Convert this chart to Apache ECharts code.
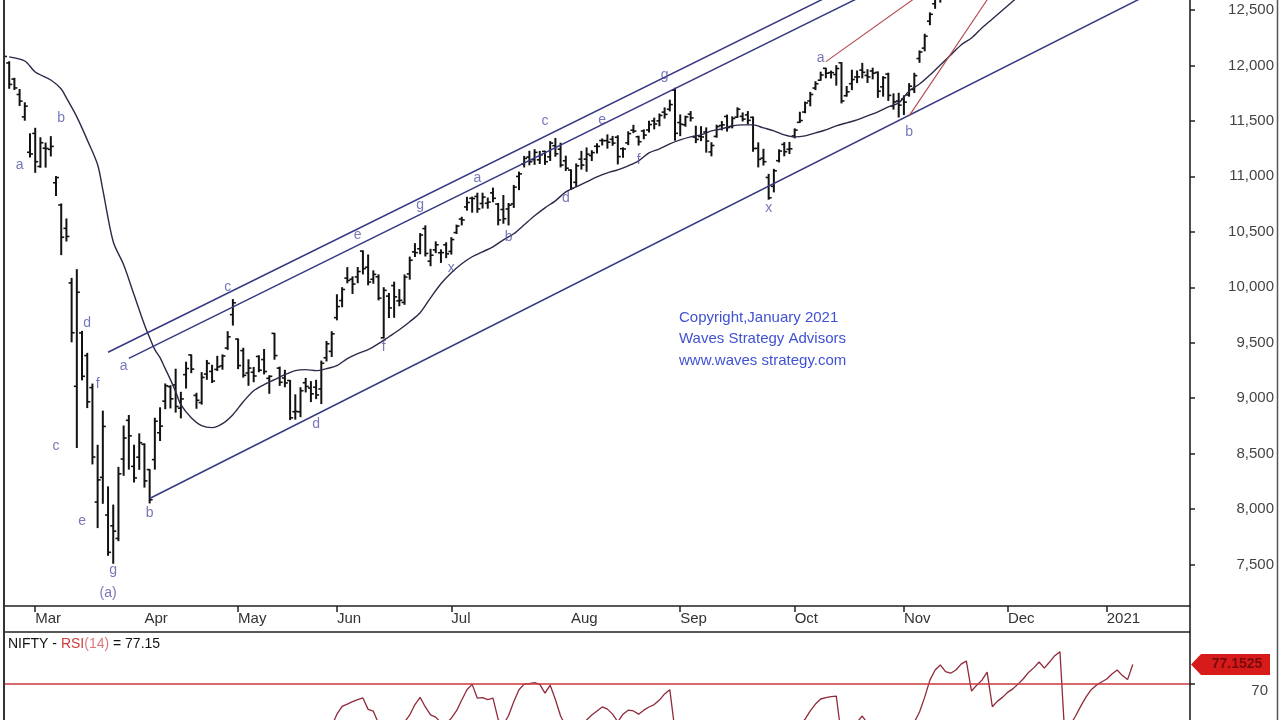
<!DOCTYPE html>
<html><head><meta charset="utf-8">
<script src="https://cdn.jsdelivr.net/npm/echarts@6/dist/echarts.min.js"></script>
<style>html,body{margin:0;padding:0;background:#fff}#c{width:1280px;height:720px}</style>
</head><body><div id="c"></div>
<script>
// ---------- DATA ----------
// daily bars: [date, open, high, low, close]
const bars = [
['2020-02-20',12119,12150,12071,12081],['2020-02-24',12022,12033,11794,11829],['2020-02-25',11877,11884,11783,11797],
['2020-02-26',11738,11783,11639,11678],['2020-02-27',11536,11663,11506,11633],['2020-02-28',11217,11384,11175,11202],
['2020-03-02',11387,11433,11036,11132],['2020-03-03',11089,11348,11082,11303],['2020-03-04',11254,11300,11083,11251],
['2020-03-05',11243,11358,11184,11270],['2020-03-06',10942,10998,10827,10989],['2020-03-09',10742,10751,10294,10451],
['2020-03-11',10531,10616,10417,10458],['2020-03-12',10039,10080,9508,9590],['2020-03-13',9107,10159,8555,9955],
['2020-03-16',9588,9602,9165,9197],['2020-03-17',9384,9404,8915,8967],['2020-03-18',9095,9127,8407,8469],
['2020-03-19',8063,8575,7833,8263],['2020-03-20',8286,8883,8052,8745],['2020-03-23',7946,8200,7583,7610],
['2020-03-24',7849,8036,7511,7801],['2020-03-25',7735,8376,7715,8318],['2020-03-26',8451,8749,8304,8641],
['2020-03-27',8800,8844,8360,8660],['2020-03-30',8385,8576,8244,8281],['2020-03-31',8468,8678,8358,8598],
['2020-04-01',8584,8588,8198,8254],['2020-04-03',8356,8356,8055,8084],['2020-04-07',8446,8819,8360,8792],
['2020-04-08',8688,8913,8618,8748],['2020-04-09',8973,9128,8905,9112],['2020-04-13',9104,9112,8912,8994],
['2020-04-15',9119,9261,8874,8925],['2020-04-16',8910,9053,8822,8993],['2020-04-17',9212,9324,9091,9267],
['2020-04-20',9390,9390,9230,9262],['2020-04-21',9025,9044,8909,8981],['2020-04-22',8960,9230,8946,9187],
['2020-04-23',9217,9340,9170,9314],['2020-04-24',9241,9296,9141,9154],['2020-04-27',9259,9377,9250,9282],
['2020-04-28',9291,9390,9261,9380],['2020-04-29',9452,9599,9440,9553],['2020-04-30',9753,9889,9659,9860],
['2020-05-04',9533,9533,9266,9294],['2020-05-05',9429,9450,9190,9206],['2020-05-06',9227,9346,9116,9271],
['2020-05-07',9234,9277,9148,9200],['2020-05-08',9376,9382,9238,9252],['2020-05-11',9348,9439,9219,9240],
['2020-05-12',9179,9202,9044,9197],['2020-05-13',9584,9584,9351,9384],['2020-05-14',9271,9280,9115,9143],
['2020-05-15',9182,9251,9103,9137],['2020-05-18',9159,9159,8807,8823],['2020-05-19',8878,9030,8811,8880],
['2020-05-20',8877,9094,8833,9067],['2020-05-21',9139,9178,9056,9106],['2020-05-22',9092,9149,8969,9039],
['2020-05-26',9099,9161,8996,9029],['2020-05-27',9083,9334,8951,9315],['2020-05-28',9364,9511,9335,9490],
['2020-05-29',9422,9599,9376,9580],
['2020-06-01',9726,9932,9706,9826],['2020-06-02',9880,9996,9824,9980],['2020-06-03',10082,10177,10040,10061],
['2020-06-04',10073,10094,9944,10029],['2020-06-05',10093,10178,10041,10142],['2020-06-08',10326,10328,10120,10168],
['2020-06-09',10181,10291,10022,10047],['2020-06-10',10072,10148,10036,10116],['2020-06-11',10094,10112,9886,9902],
['2020-06-12',9544,9996,9544,9972],['2020-06-15',9920,9944,9727,9814],['2020-06-16',10015,10046,9729,9914],
['2020-06-17',9877,9979,9833,9882],['2020-06-18',9863,10111,9846,10092],['2020-06-19',10120,10272,10073,10244],
['2020-06-22',10319,10393,10277,10312],['2020-06-23',10347,10484,10302,10471],['2020-06-24',10529,10554,10282,10305],
['2020-06-25',10235,10342,10194,10289],['2020-06-26',10337,10409,10312,10383],['2020-06-29',10311,10337,10224,10312],
['2020-06-30',10383,10401,10267,10302],
['2020-07-01',10323,10447,10299,10430],['2020-07-02',10493,10560,10485,10552],['2020-07-03',10615,10631,10562,10607],
['2020-07-06',10724,10811,10695,10764],['2020-07-07',10802,10813,10677,10800],['2020-07-08',10819,10848,10676,10706],
['2020-07-09',10755,10848,10714,10813],['2020-07-10',10757,10804,10713,10768],['2020-07-13',10851,10894,10771,10802],
['2020-07-14',10750,10755,10563,10607],['2020-07-15',10701,10827,10577,10618],['2020-07-16',10706,10755,10562,10740],
['2020-07-17',10752,10918,10720,10902],['2020-07-20',10999,11038,10880,11022],['2020-07-21',11110,11180,11085,11162],
['2020-07-22',11174,11226,11104,11132],['2020-07-23',11150,11240,11108,11216],['2020-07-24',11149,11225,11116,11194],
['2020-07-27',11225,11226,11108,11132],['2020-07-28',11176,11313,11143,11300],['2020-07-29',11276,11341,11181,11203],
['2020-07-30',11245,11299,11085,11102],['2020-07-31',11140,11182,11053,11073],
['2020-08-03',11057,11058,10882,10892],['2020-08-04',10946,11112,10908,11095],['2020-08-05',11155,11225,11065,11102],
['2020-08-06',11155,11256,11046,11200],['2020-08-07',11187,11231,11143,11214],['2020-08-10',11271,11295,11210,11270],
['2020-08-11',11323,11337,11283,11322],['2020-08-12',11322,11374,11254,11308],['2020-08-13',11334,11360,11280,11300],
['2020-08-14',11353,11366,11112,11178],['2020-08-17',11249,11257,11172,11247],['2020-08-18',11302,11401,11286,11385],
['2020-08-19',11416,11460,11394,11408],['2020-08-20',11357,11362,11282,11312],['2020-08-21',11409,11419,11339,11372],
['2020-08-24',11418,11497,11400,11467],['2020-08-25',11500,11525,11428,11472],['2020-08-26',11500,11562,11456,11549],
['2020-08-27',11579,11617,11525,11559],['2020-08-28',11605,11687,11590,11647],['2020-08-31',11777,11794,11326,11388],
['2020-09-01',11485,11554,11367,11470],['2020-09-02',11465,11543,11452,11536],['2020-09-03',11561,11584,11499,11527],
['2020-09-04',11354,11452,11304,11333],['2020-09-07',11359,11448,11322,11355],['2020-09-08',11400,11437,11218,11318],
['2020-09-09',11220,11303,11185,11278],['2020-09-10',11360,11461,11353,11449],['2020-09-11',11458,11494,11419,11464],
['2020-09-14',11540,11552,11408,11440],['2020-09-15',11449,11536,11437,11522],['2020-09-16',11534,11618,11531,11605],
['2020-09-17',11541,11572,11499,11516],['2020-09-18',11554,11584,11472,11505],['2020-09-21',11532,11535,11226,11251],
['2020-09-22',11252,11302,11085,11153],['2020-09-23',11164,11244,11102,11132],['2020-09-24',10990,11018,10794,10806],
['2020-09-25',10910,11063,10860,11050],['2020-09-28',11141,11239,11130,11228],['2020-09-29',11288,11304,11185,11222],
['2020-09-30',11244,11306,11206,11248],
['2020-10-01',11364,11428,11347,11417],['2020-10-05',11487,11578,11486,11503],['2020-10-06',11580,11670,11573,11662],
['2020-10-07',11680,11757,11636,11738],['2020-10-08',11796,11853,11782,11835],['2020-10-09',11867,11939,11866,11914],
['2020-10-12',11974,11974,11889,11930],['2020-10-13',11935,11949,11887,11935],['2020-10-14',11918,11998,11822,11972],
['2020-10-15',12024,12025,11662,11680],['2020-10-16',11727,11810,11723,11762],['2020-10-19',11835,11957,11782,11873],
['2020-10-20',11896,11950,11845,11897],['2020-10-21',11958,12019,11888,11938],['2020-10-22',11910,11962,11846,11896],
['2020-10-23',11950,11975,11879,11930],['2020-10-26',11937,11942,11712,11768],['2020-10-27',11807,11899,11723,11889],
['2020-10-28',11922,11930,11685,11730],['2020-10-29',11634,11744,11606,11670],['2020-10-30',11679,11749,11535,11642],
['2020-11-02',11697,11726,11557,11669],['2020-11-03',11734,11836,11723,11813],['2020-11-04',11783,11929,11756,11908],
['2020-11-05',12062,12131,12028,12121],['2020-11-06',12156,12281,12132,12264],['2020-11-09',12399,12474,12367,12461],
['2020-11-10',12556,12643,12515,12631],['2020-11-11',12680,12769,12571,12749],['2020-11-12',12688,12724,12644,12691],
['2020-11-13',12659,12735,12625,12720],['2020-11-14',12829,12829,12730,12780],['2020-11-17',12932,12935,12822,12874],
['2020-11-18',12905,12963,12896,12938],['2020-11-19',12811,12870,12730,12771],['2020-11-20',12813,12879,12790,12859],
['2020-11-23',12906,12968,12870,12926],['2020-11-24',12964,13079,12960,13055],['2020-11-25',13130,13145,12833,12858],
['2020-11-26',12907,12991,12790,12987],['2020-11-27',13012,13035,12916,12969],
['2020-12-01',13062,13128,12962,13109],['2020-12-07',13264,13366,13241,13356],['2020-12-08',13393,13434,13312,13393],
['2020-12-09',13440,13548,13400,13529],['2020-12-10',13487,13503,13400,13478],['2020-12-11',13526,13579,13402,13514],
['2020-12-14',13547,13597,13538,13558],['2020-12-15',13571,13587,13411,13567],['2020-12-16',13616,13692,13579,13682],
['2020-12-17',13713,13773,13651,13740],['2020-12-18',13764,13772,13639,13761],['2020-12-21',13742,13778,13132,13328],
['2020-12-22',13305,13493,13192,13466],['2020-12-23',13473,13619,13447,13601],['2020-12-24',13672,13771,13606,13749],
['2020-12-28',13815,13885,13812,13873],['2020-12-29',13910,13967,13860,13932],['2020-12-30',13981,13997,13865,13982],
['2020-12-31',13971,14024,13937,13982],
['2021-01-01',13997,14050,13991,14018],['2021-01-04',14104,14147,13954,14133],['2021-01-05',14075,14215,14048,14199],
['2021-01-06',14240,14244,14039,14146],['2021-01-07',14191,14256,14123,14137],['2021-01-08',14235,14367,14221,14347]
];
// empty future sessions on the right of the time axis
const futureDates = ['2021-01-11','2021-01-12','2021-01-13','2021-01-14','2021-01-15','2021-01-18','2021-01-19','2021-01-20','2021-01-21','2021-01-22','2021-01-25'];

// moving average
const maDates = ['2020-02-24','2020-02-27','2020-03-02','2020-03-05','2020-03-09','2020-03-11','2020-03-13','2020-03-17','2020-03-19','2020-03-20',
'2020-03-24','2020-03-26','2020-03-30','2020-04-01','2020-04-03','2020-04-07','2020-04-08','2020-04-09','2020-04-13','2020-04-15','2020-04-16',
'2020-04-20','2020-04-22','2020-04-24','2020-04-28','2020-04-30','2020-05-05','2020-05-07','2020-05-11','2020-05-13','2020-05-15','2020-05-19',
'2020-05-21','2020-05-26','2020-05-28','2020-06-01','2020-06-03','2020-06-05','2020-06-09','2020-06-11','2020-06-15','2020-06-17','2020-06-19',
'2020-06-23','2020-06-25','2020-06-29','2020-07-01','2020-07-03','2020-07-07','2020-07-09','2020-07-13','2020-07-15','2020-07-17','2020-07-21',
'2020-07-23','2020-07-27','2020-07-29','2020-07-31','2020-08-04','2020-08-06','2020-08-10','2020-08-12','2020-08-14','2020-08-18','2020-08-20',
'2020-08-24','2020-08-26','2020-08-28','2020-09-01','2020-09-03','2020-09-07','2020-09-09','2020-09-11','2020-09-15','2020-09-17','2020-09-21',
'2020-09-23','2020-09-25','2020-09-29','2020-10-01','2020-10-06','2020-10-08','2020-10-12','2020-10-14','2020-10-16','2020-10-20','2020-10-22',
'2020-10-26','2020-10-28','2020-10-30','2020-11-03','2020-11-05','2020-11-09','2020-11-11','2020-11-13','2020-11-17','2020-11-19','2020-11-23',
'2020-11-25','2020-11-27','2020-12-07','2020-12-09','2020-12-16','2020-12-23','2020-12-31','2021-01-08'];
const maValues = [12077,12040,11941,11869,11788,11707,11536,11329,11104,10878,
10410,10203,9932,9662,9545,9437,9365,9266,9167,9059,8941,
8824,8752,8734,8770,8851,8968,9067,9122,9167,9212,9248,
9257,9248,9266,9293,9356,9401,9437,9491,9554,9617,9689,
9770,9905,10032,10131,10212,10275,10320,10365,10428,10482,10563,
10644,10716,10779,10860,10905,10950,10995,11032,11059,11095,11140,
11212,11248,11293,11329,11356,11374,11410,11428,11455,11464,11464,
11437,11410,11374,11356,11365,11392,11419,11455,11482,11509,11545,
11581,11626,11662,11770,11833,11914,12005,12095,12185,12248,12338,
12419,12500,12581,12660,12950,13250,13520,13780];

// RSI(14)
const rsiDates = ['2020-02-24','2020-03-13','2020-03-24','2020-04-09','2020-04-30','2020-05-18','2020-05-29',
'2020-06-01','2020-06-02','2020-06-03','2020-06-04','2020-06-05','2020-06-08','2020-06-09','2020-06-10','2020-06-11','2020-06-12','2020-06-15','2020-06-16','2020-06-17','2020-06-18','2020-06-19','2020-06-22','2020-06-23','2020-06-24','2020-06-25','2020-06-26','2020-06-29','2020-06-30',
'2020-07-01','2020-07-02','2020-07-03','2020-07-06','2020-07-07','2020-07-08','2020-07-09','2020-07-10','2020-07-13','2020-07-14','2020-07-15','2020-07-16','2020-07-17','2020-07-20','2020-07-21','2020-07-22','2020-07-23','2020-07-24','2020-07-27','2020-07-28','2020-07-29','2020-07-30','2020-07-31',
'2020-08-03','2020-08-04','2020-08-05','2020-08-06','2020-08-07','2020-08-10','2020-08-11','2020-08-12','2020-08-13','2020-08-14','2020-08-17','2020-08-18','2020-08-19','2020-08-20','2020-08-21','2020-08-24','2020-08-25','2020-08-26','2020-08-27','2020-08-28','2020-08-31',
'2020-09-01','2020-09-04','2020-09-09','2020-09-16','2020-09-21','2020-09-24','2020-09-30',
'2020-10-01','2020-10-05','2020-10-06','2020-10-07','2020-10-08','2020-10-09','2020-10-12','2020-10-13','2020-10-14','2020-10-15','2020-10-16','2020-10-19','2020-10-20','2020-10-21','2020-10-22','2020-10-23','2020-10-26','2020-10-27','2020-10-28','2020-10-29','2020-10-30',
'2020-11-02','2020-11-03','2020-11-04','2020-11-05','2020-11-06','2020-11-09','2020-11-10','2020-11-11','2020-11-12','2020-11-13','2020-11-14','2020-11-17','2020-11-18','2020-11-19','2020-11-20','2020-11-23','2020-11-24','2020-11-25','2020-11-26','2020-11-27',
'2020-12-01','2020-12-07','2020-12-08','2020-12-09','2020-12-10','2020-12-11','2020-12-14','2020-12-15','2020-12-16','2020-12-17','2020-12-18','2020-12-21','2020-12-22','2020-12-23','2020-12-24','2020-12-28','2020-12-29','2020-12-30','2020-12-31',
'2021-01-01','2021-01-04','2021-01-05','2021-01-06','2021-01-07','2021-01-08'];
const rsiValues = [40,24,20,46,54,45,54,
58.5,61.4,62.3,63.2,64.0,64.6,60.3,59.6,55.0,52,51,53,53,55.5,58.2,62.1,64.8,61.2,58.2,57.4,55.2,55.0,
57.0,59.8,63.8,67.7,69.7,64.5,64.7,64.0,64.5,56.5,54.5,58.0,63.2,67.7,69.8,70.0,70.4,69.7,66.4,69.4,64.0,57.8,54.0,
49,53,54,56.3,58.2,59.7,61.2,60.4,58.5,55.6,58.5,60.0,59.7,58.5,60.0,61.2,62.1,63.8,66.1,67.7,52,
53,48,47,55,46,37,47,
52,54.5,56.6,59.7,62.3,64.2,64.7,65.1,65.3,50,53,54.5,55.5,57.8,55,55.5,48,53,47,45,44,
46,52,55.5,59.3,64.9,71.3,75.1,77.0,74.5,73.9,75.1,77.3,78.5,67.2,69.4,71.3,74.3,61.3,63.4,64.9,
66.8,68.1,69.9,71.9,74.3,76.0,78.1,75.8,78.1,80.5,82.0,48,54.5,57.8,61.5,64.9,67.7,69.4,70.6,
71.7,73.6,75.1,73.0,71.5,77.1525];
const rsiLast = 77.1525;
const rsiLevel = 70;

// axis ticks
const priceTicks = [7500,8000,8500,9000,9500,10000,10500,11000,11500,12000,12500];
const rsiTicks = [70];
const monthNames = ['Jan','Feb','Mar','Apr','May','Jun','Jul','Aug','Sep','Oct','Nov','Dec'];
const noTickMonths = ['04','08'];

// Elliott wave labels
const waveText   = ['a','b','c','d','f','e','g','(a)','b','a','c','d','e','f','g','a','x','b','c','d','e','f','g','x','a','b'];
const waveDates  = ['2020-02-26','2020-03-09','2020-03-06','2020-03-17','2020-03-19','2020-03-16','2020-03-24','2020-03-23','2020-04-03','2020-03-26',
'2020-04-29','2020-05-26','2020-06-05','2020-06-12','2020-06-23','2020-07-08','2020-07-01','2020-07-16','2020-07-27','2020-07-31','2020-08-11',
'2020-08-20','2020-08-27','2020-09-24','2020-10-09','2020-11-03'];
const waveValues = [11104,11527,8563,9680,9122,7887,7446,7239,7959,9293,10004,8770,10473,9464,10743,10986,10176,10455,11500,10806,11509,11149,11914,10716,12068,11401];

// trend lines: start/end dates and values
const trendStartDates  = ['2020-04-03','2020-03-23','2020-03-27','2020-10-12','2020-11-03'];
const trendStartValues = [8095,9414,9359,12034,11545];
const trendEndDates    = ['2021-01-14','2020-11-02','2020-11-09','2020-11-13','2020-11-27'];
const trendEndValues   = [12663,12959,12927,12837,12801];
const trendKinds       = ['channel','channel','channel','red','red'];

// ---------- CHART ----------
const FONT = "'Liberation Sans', Arial, sans-serif";
const dates = bars.map(b => b[0]).concat(futureDates);
const isMonthStart = i => i > 0 && dates[i].slice(0, 7) !== dates[i - 1].slice(0, 7);
const monthLabel = v => v.slice(5, 7) === '01' ? v.slice(0, 4) : monthNames[+v.slice(5, 7) - 1];

const chart = echarts.init(document.getElementById('c'), null, {renderer: 'canvas'});

const trendSeries = trendKinds.map((k, i) => ({
  type: 'line', xAxisIndex: 0, yAxisIndex: 0, symbol: 'none', silent: true, z: 4,
  data: [[trendStartDates[i], trendStartValues[i]], [trendEndDates[i], trendEndValues[i]]],
  lineStyle: k === 'channel' ? {color: '#363a82', width: 1.5} : {color: '#b3454a', width: 1.1}
}));

const option = {
  animation: false,
  backgroundColor: '#ffffff',
  grid: [
    {left: 4, right: 90, top: 0, height: 606},
    {left: 4, right: 90, top: 632, height: 88}
  ],
  xAxis: [
    {type: 'category', gridIndex: 0, data: dates, boundaryGap: false,
     axisLine: {show: true, lineStyle: {color: '#222', width: 1.5}},
     axisTick: {show: true, length: 6, lineStyle: {color: '#222', width: 1.5},
       interval: i => isMonthStart(i) && !noTickMonths.includes(dates[i].slice(5, 7))},
     axisLabel: {interval: i => isMonthStart(i), formatter: monthLabel, align: 'left',
       margin: 5, color: '#333', fontSize: 15, fontFamily: FONT},
     splitLine: {show: false}},
    {type: 'category', gridIndex: 1, data: dates, boundaryGap: false, position: 'top',
     axisLine: {show: true, lineStyle: {color: '#222', width: 1.5}},
     axisTick: {show: false}, axisLabel: {show: false}, splitLine: {show: false}}
  ],
  yAxis: [
    {type: 'value', gridIndex: 0, position: 'right', min: 7126, max: 12590,
     axisLine: {show: false},
     axisTick: {show: true, length: 5, customValues: priceTicks, lineStyle: {color: '#222', width: 1.5}},
     axisLabel: {customValues: priceTicks, formatter: v => v.toLocaleString('en-US'),
       align: 'right', margin: 84, color: '#444', fontSize: 15, fontFamily: FONT},
     splitLine: {show: false}},
    {type: 'value', gridIndex: 1, position: 'right', min: 56.3, max: 89.4,
     axisLine: {show: false},
     axisTick: {show: true, length: 5, customValues: rsiTicks, lineStyle: {color: '#222', width: 1.5}},
     axisLabel: {customValues: rsiTicks, align: 'right', verticalAlign: 'top', margin: 78,
       color: '#444', fontSize: 15, fontFamily: FONT},
     splitLine: {show: false}}
  ],
  series: [
    {type: 'custom', name: 'NIFTY', xAxisIndex: 0, yAxisIndex: 0, clip: true, z: 2,
     data: bars.map(b => [b[0], b[1], b[2], b[3], b[4]]),
     encode: {x: 0, y: [1, 2, 3, 4]},
     renderItem: function (params, api) {
       const x = api.value(0);
       const pO = api.coord([x, api.value(1)]);
       const pH = api.coord([x, api.value(2)]);
       const pL = api.coord([x, api.value(3)]);
       const pC = api.coord([x, api.value(4)]);
       const tick = {stroke: '#121212', lineWidth: 1.6};
       return {type: 'group', children: [
         {type: 'line', shape: {x1: pH[0], y1: pH[1] - 0.5, x2: pL[0], y2: pL[1] + 0.5}, style: {stroke: '#121212', lineWidth: 2}},
         {type: 'line', shape: {x1: pO[0] - 3, y1: pO[1], x2: pO[0], y2: pO[1]}, style: tick},
         {type: 'line', shape: {x1: pC[0], y1: pC[1], x2: pC[0] + 3, y2: pC[1]}, style: tick}
       ]};
     }},
    {type: 'line', name: 'MA', xAxisIndex: 0, yAxisIndex: 0, symbol: 'none', silent: true, z: 3,
     smooth: 0.3, data: maDates.map((d, i) => [d, maValues[i]]),
     lineStyle: {color: '#2a2a48', width: 1.4}},
    ...trendSeries,
    {type: 'scatter', name: 'waves', xAxisIndex: 0, yAxisIndex: 0, symbolSize: 1, silent: true, z: 5,
     itemStyle: {color: 'rgba(0,0,0,0)'},
     data: waveText.map((t, i) => ({name: t, value: [waveDates[i], waveValues[i]]})),
     label: {show: true, position: 'inside', formatter: '{b}', color: '#5656a8', fontSize: 14, fontFamily: FONT}},
    {type: 'line', name: 'RSI', xAxisIndex: 1, yAxisIndex: 1, symbol: 'none', silent: true, z: 3,
     data: rsiDates.map((d, i) => [d, rsiValues[i]]),
     lineStyle: {color: '#8e2a3a', width: 1.3},
     markLine: {silent: true, symbol: 'none', label: {show: false},
       lineStyle: {color: '#c8393b', width: 1.6, type: 'solid'},
       data: [{yAxis: rsiLevel}]}}
  ]
};
chart.setOption(option);

// static frame, notes and the value tag
const tagY = chart.convertToPixel({gridIndex: 1}, [dates[bars.length - 1], rsiLast])[1];
const axisX = 1190;
chart.setOption({
  graphic: [
    {type: 'line', shape: {x1: 4, y1: 0, x2: 4, y2: 720}, style: {stroke: '#333', lineWidth: 2}, z: 10},
    {type: 'line', shape: {x1: axisX, y1: 0, x2: axisX, y2: 720}, style: {stroke: '#222', lineWidth: 1.6}, z: 10},
    {type: 'line', shape: {x1: 1277.5, y1: 0, x2: 1277.5, y2: 720}, style: {stroke: '#555', lineWidth: 1.5}, z: 10},
    {type: 'text', left: 679, top: 307, z: 10,
     style: {text: 'Copyright,January 2021\nWaves Strategy Advisors\nwww.waves strategy.com',
       fill: '#4052d2', font: '15px ' + FONT, lineHeight: 21.5}},
    {type: 'text', left: 8, top: 637, z: 10,
     style: {text: '{k|NIFTY - }{r|RSI}{p|(14)}{k| = ' + rsiLast.toFixed(2) + '}',
       rich: {k: {fill: '#111', font: '14px ' + FONT}, r: {fill: '#d23c3c', font: '14px ' + FONT},
              p: {fill: '#e07a7a', font: '14px ' + FONT}}}},
    {type: 'polygon', z: 11,
     shape: {points: [[axisX + 1, tagY], [axisX + 11, tagY - 10.5], [1270, tagY - 10.5], [1270, tagY + 10.5], [axisX + 11, tagY + 10.5]]},
     style: {fill: '#d71a1a'}},
    {type: 'text', z: 12, x: 1237, y: tagY,
     style: {text: rsiLast.toFixed(4), fill: '#7a0b0b', font: 'bold 14px ' + FONT, align: 'center', verticalAlign: 'middle'}}
  ]
});
</script>
</body></html>
